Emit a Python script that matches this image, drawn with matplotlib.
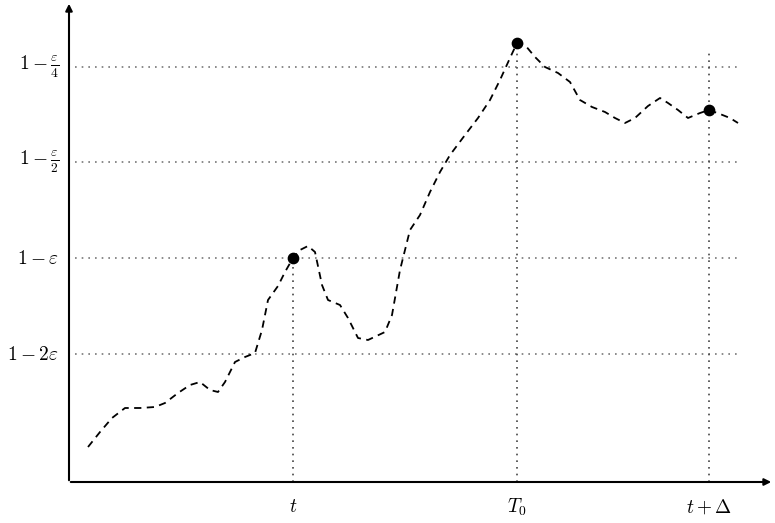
import matplotlib
matplotlib.use("Agg")
import matplotlib.pyplot as plt

plt.rcParams['mathtext.fontset'] = 'cm'

# curve samples (x, y) in chart units: x from left axis, y up from x-axis
xs = [19,31,43,56,71,86,96,109,121,131,141,149,156,166,176,186,193,199,209,216,224,231,239,246,253,259,271,279,289,299,316,323,331,341,351,361,371,381,396,409,421,431,441,448,456,466,476,489,501,511,523,536,546,556,566,579,591,599,609,619,631,640,651,661,669]
ys = [35,50,64,74,74,75,79,89,97,100,92,90,100,120,125,129,152,182,196,210,224,232,236,230,197,182,177,164,144,142,150,167,212,252,267,290,310,327,347,364,382,402,424,439,437,425,415,409,400,382,375,370,364,359,364,376,384,379,372,364,369,372,368,364,359]
ygrid = [415, 320, 224, 128]
ylabels = [r'$1-\frac{\varepsilon}{4}$', r'$1-\frac{\varepsilon}{2}$', r'$1-\varepsilon$', r'$1-2\varepsilon$']
xmarks = [224, 448, 640]
xlabels = [r'$t$', r'$T_0$', r'$t+\Delta$']
dots = [(224, 224), (448, 439), (640, 372)]

fig = plt.figure(figsize=(7.75, 5.23), dpi=100)
ax = fig.add_axes([0, 0, 1, 1])
ax.set_xlim(-69, 706)
ax.set_ylim(-41, 482)
ax.axis('off')

for y in ygrid:
    ax.plot([6, 671], [y, y], ls=(0, (1, 3)), color='#777777', lw=1.2)
ax.plot([224, 224], [0, 224], ls=(0, (1, 3)), color='#444444', lw=1.2)
ax.plot([448, 448], [0, 439], ls=(0, (1, 3)), color='#444444', lw=1.2)
ax.plot([640, 640], [0, 430], ls=(0, (1, 3)), color='#444444', lw=1.2)

ax.plot(xs, ys, ls=(0, (4, 3)), color='black', lw=1.3)
ax.scatter([d[0] for d in dots], [d[1] for d in dots], s=55, color='black', zorder=5)

ax.annotate('', xy=(705, 0), xytext=(-1, 0), arrowprops=dict(arrowstyle='-|>', color='black', lw=1.5, mutation_scale=10))
ax.annotate('', xy=(0, 481), xytext=(0, -1), arrowprops=dict(arrowstyle='-|>', color='black', lw=1.5, mutation_scale=10))

for y, l in zip(ygrid, ylabels):
    ax.text(-10, y, l, ha='right', va='center', fontsize=14)
for x, l in zip(xmarks, xlabels):
    ax.text(x, -25, l, ha='center', va='center', fontsize=14)

fig.savefig('out.png', dpi=100)
